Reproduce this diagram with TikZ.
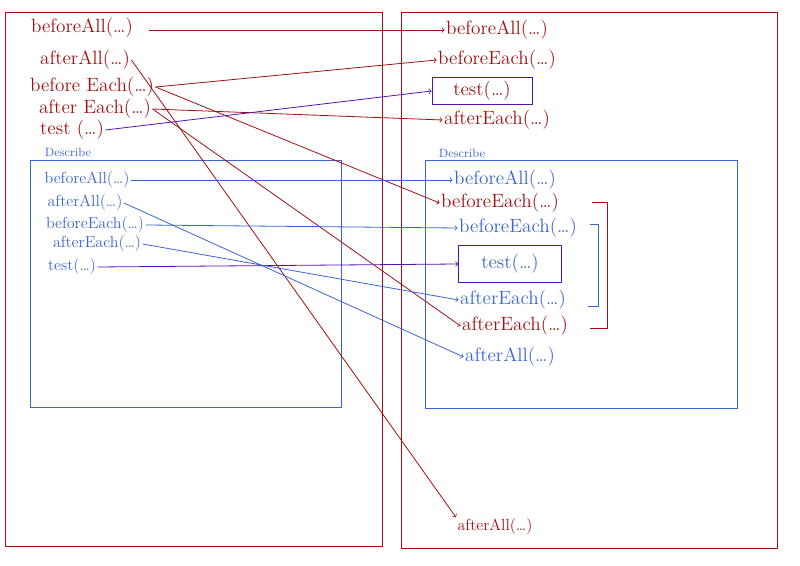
\documentclass[tikz,border=0pt]{standalone}
\usepackage{xcolor}
\usetikzlibrary{positioning}
\definecolor{hred}{HTML}{A01010}
\definecolor{hblue}{HTML}{3A64D0}
\definecolor{hpurple}{HTML}{5A10B0}
\tikzset{
  rtxt/.style={text=hred,font=\Large,inner sep=1pt},
  btxt/.style={text=hblue,font=\large,inner sep=1pt},
  rarr/.style={draw=hred,->,semithick},
  barr/.style={draw=hblue,->,semithick},
  parr/.style={draw=hpurple,->,semithick}
}
\begin{document}
\begin{tikzpicture}[x=0.75pt,y=-0.75pt]
  \useasboundingbox (0,0) rectangle (800,566);
  % outer boxes
  \draw[hred,semithick] (5,12) rectangle (382,546);
  \draw[hred,semithick] (401,12) rectangle (777,548);
  \draw[hblue,semithick] (30,160) rectangle (341,407);
  \draw[hblue,semithick] (425,160) rectangle (737,408);

  % left side
  \path
  (82,28) node[rtxt] (LbA) {beforeAll(\dots)}
  (85,60) node[rtxt] (LaA) {afterAll(\dots)}
  (92,87) node[rtxt] (LbE) {before Each(\dots)}
  (95,109) node[rtxt] (LaE) {after Each(\dots)}
  (72,130) node[rtxt] (Lt) {test (\dots)}
  (68,152) node[btxt,font=\small] {Describe}
  (87,180) node[btxt] (DbA) {beforeAll(\dots)}
  (85,203) node[btxt] (DaA) {afterAll(\dots)}
  (95,225) node[btxt] (DbE) {beforeEach(\dots)}
  (97,244) node[btxt] (DaE) {afterEach(\dots)}
  (72,267) node[btxt] (Dt) {test(\dots)}
  ;

  % right side
  \path
  (497,30) node[rtxt] (RbA) {beforeAll(\dots)}
  (497,60) node[rtxt] (RbE) {beforeEach(\dots)}
  (482,91) node[rtxt,draw=hpurple,semithick,minimum width=75pt,minimum height=20pt] (Rt) {test(\dots)}
  (497,120) node[rtxt] (RaE) {afterEach(\dots)}
  (462,153) node[btxt,font=\small] {Describe}
  (505,180) node[btxt,font=\Large] (SbA) {beforeAll(\dots)}
  (500,203) node[rtxt] (SrbE) {beforeEach(\dots)}
  (518,228) node[btxt,font=\Large] (SbE) {beforeEach(\dots)}
  (510,264) node[btxt,font=\Large,draw=hpurple,semithick,minimum width=77pt,minimum height=28pt] (St) {test(\dots)}
  (513,300) node[btxt,font=\Large] (SaE) {afterEach(\dots)}
  (515,326) node[rtxt] (SraE) {afterEach(\dots)}
  (510,357) node[btxt,font=\Large] (SaA) {afterAll(\dots)}
  (495,527) node[rtxt,font=\large] (RaA) {afterAll(\dots)}
  ;

  % brackets
  \draw[hred,semithick] (592,202) -| (607,328) -- (590,328);
  \draw[hblue,semithick] (590,224) -| (598,306) -- (588,306);

  % connectors
  \draw[rarr] (LbA.east) ++(15,2) -- (RbA.west);
  \draw[rarr] (LbE.east) -- (RbE.west);
  \draw[rarr] (LbE.east) -- (SrbE.west);
  \draw[rarr] (LaE.east) -- (RaE.west);
  \draw[rarr] (LaE.east) -- (SraE.west);
  \draw[rarr] (LaA.east) -- (RaA.north west);
  \draw[parr] (Lt.east) -- (Rt.west);
  \draw[parr] (Dt.east) -- (St.west);
  \draw[barr] (DbA.east) -- (SbA.west);
  \draw[barr] (DaA.east) -- (SaA.west);
  \draw[barr] (DbE.east) -- (SbE.west);
  \draw[barr] (DaE.east) -- (SaE.west);
\end{tikzpicture}
\end{document}
